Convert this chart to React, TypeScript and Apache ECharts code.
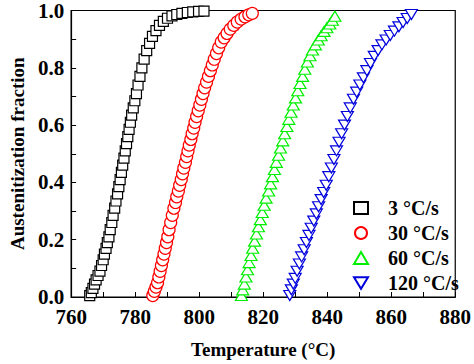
import React, { useEffect, useRef } from "react";
import * as echarts from "echarts";

const xTicks = [760, 780, 800, 820, 840, 860, 880];
const yTicks = [0.0, 0.2, 0.4, 0.6, 0.8, 1.0];
const seriesNames = ["3 \u00b0C/s", "30 \u00b0C/s", "60 \u00b0C/s", "120 \u00b0C/s"];

const rate3: number[][] = [
  [765.8, 0.005], [766.3, 0.015], [766.8, 0.03], [767.3, 0.045], [767.8, 0.06], [768.4, 0.075],
  [769.0, 0.09], [769.5, 0.11], [770.0, 0.13], [770.4, 0.15], [770.9, 0.17], [771.3, 0.19],
  [771.8, 0.21], [772.2, 0.235], [772.7, 0.26], [773.1, 0.285], [773.6, 0.31], [774.0, 0.335],
  [774.5, 0.36], [774.9, 0.385], [775.3, 0.41], [775.7, 0.435], [776.1, 0.46], [776.5, 0.485],
  [776.9, 0.51], [777.3, 0.535], [777.7, 0.56], [778.1, 0.585], [778.5, 0.61], [778.9, 0.635],
  [779.4, 0.66], [779.9, 0.685], [780.4, 0.71], [780.9, 0.74], [781.5, 0.77], [782.1, 0.8],
  [782.8, 0.83], [783.6, 0.86], [784.5, 0.885], [785.4, 0.91], [786.5, 0.93], [787.6, 0.948],
  [788.8, 0.962], [790.1, 0.973], [791.5, 0.981], [793.0, 0.986], [794.6, 0.99], [796.3, 0.993],
  [798.0, 0.995], [799.8, 0.997], [801.5, 0.998],
];

const rate30: number[][] = [
  [785.5, 0.005], [786.0, 0.02], [786.5, 0.035], [787.0, 0.05], [787.4, 0.07], [787.8, 0.09],
  [788.2, 0.11], [788.6, 0.13], [789.0, 0.15], [789.4, 0.17], [789.8, 0.19], [790.2, 0.21],
  [790.6, 0.235], [791.1, 0.26], [791.6, 0.285], [792.1, 0.31], [792.6, 0.33], [793.0, 0.35],
  [793.5, 0.37], [793.9, 0.39], [794.4, 0.41], [794.8, 0.43], [795.2, 0.45], [795.7, 0.47],
  [796.1, 0.49], [796.5, 0.51], [796.9, 0.53], [797.4, 0.55], [797.8, 0.57], [798.3, 0.59],
  [798.7, 0.61], [799.2, 0.63], [799.7, 0.65], [800.2, 0.67], [800.7, 0.69], [801.2, 0.71],
  [801.7, 0.73], [802.3, 0.75], [802.9, 0.77], [803.5, 0.79], [804.1, 0.81], [804.7, 0.83],
  [805.4, 0.85], [806.1, 0.87], [806.9, 0.89], [807.8, 0.905], [808.7, 0.92], [809.7, 0.935],
  [810.8, 0.948], [811.9, 0.96], [813.1, 0.97], [814.3, 0.978], [815.5, 0.985], [816.6, 0.99],
];

const rate60: number[][] = [
  [813.2, 0.005], [813.6, 0.025], [814.1, 0.045], [814.6, 0.07], [815.1, 0.095], [815.6, 0.12],
  [816.2, 0.145], [816.7, 0.17], [817.3, 0.195], [817.9, 0.22], [818.5, 0.245], [819.1, 0.27],
  [819.7, 0.295], [820.3, 0.32], [820.9, 0.345], [821.7, 0.37], [822.3, 0.395], [822.9, 0.42],
  [823.5, 0.445], [824.1, 0.47], [824.8, 0.495], [825.4, 0.52], [826.1, 0.545], [826.7, 0.57],
  [827.4, 0.595], [828.0, 0.62], [828.7, 0.645], [829.4, 0.67], [830.1, 0.695], [830.8, 0.72],
  [831.5, 0.745], [832.3, 0.77], [833.0, 0.795], [833.8, 0.82], [834.6, 0.842], [835.4, 0.862],
  [836.3, 0.88], [837.2, 0.897], [838.1, 0.912], [839.0, 0.927], [839.9, 0.94], [840.8, 0.953],
  [841.6, 0.966], [842.4, 0.98],
];

const rate120: number[][] = [
  [828.3, 0.005], [828.8, 0.025], [829.4, 0.045], [830.0, 0.065], [830.6, 0.09], [831.3, 0.115],
  [832.0, 0.14], [832.8, 0.165], [833.5, 0.19], [834.3, 0.215], [835.0, 0.24], [835.8, 0.265],
  [836.6, 0.29], [837.3, 0.315], [838.1, 0.34], [838.9, 0.365], [839.7, 0.39], [840.5, 0.42],
  [841.3, 0.45], [842.1, 0.48], [842.9, 0.51], [843.7, 0.54], [844.5, 0.57], [845.4, 0.6],
  [846.3, 0.63], [847.2, 0.66], [848.2, 0.69], [849.2, 0.715], [850.2, 0.74], [851.3, 0.765],
  [852.4, 0.79], [853.5, 0.815], [854.7, 0.84], [855.9, 0.86], [857.1, 0.88], [858.4, 0.897],
  [859.7, 0.913], [861.0, 0.928], [862.4, 0.943], [863.7, 0.958], [865.0, 0.972], [866.3, 0.986],
];

const FONT = "Liberation Serif";
const DOWN_TRIANGLE = "path://M0,0 L12,0 L6,10 Z";

export default function App() {
  const ref = useRef<HTMLDivElement>(null);
  useEffect(() => {
    if (!ref.current) return;
    const chart = echarts.init(ref.current, undefined, { renderer: "svg" });
    const mk = (name: string, data: number[][], symbol: string, size: any, color: string) => ({
      name,
      type: "scatter",
      data,
      symbol,
      symbolSize: size,
      itemStyle: { color: "#ffffff", borderColor: color, borderWidth: 1.2, opacity: 1 },
      emphasis: { disabled: true },
    });
    chart.setOption({
      animation: false,
      grid: {
        left: 60, right: 16, top: 8, bottom: 62,
        show: true, borderColor: "#000", borderWidth: 1.2, backgroundColor: "transparent",
      },
      xAxis: {
        type: "value",
        min: xTicks[0],
        max: xTicks[xTicks.length - 1],
        interval: 20,
        name: "Temperature (\u00b0C)",
        nameLocation: "middle",
        nameGap: 43,
        nameTextStyle: { fontFamily: FONT, fontWeight: "bold", fontSize: 19, color: "#000" },
        axisLine: { show: true, lineStyle: { color: "#000", width: 1.2 } },
        axisTick: { show: true, inside: true, length: 5, lineStyle: { color: "#000", width: 1 } },
        minorTick: { show: true, splitNumber: 2, length: 5, lineStyle: { color: "#000", width: 1 } },
        splitLine: { show: false },
        axisLabel: {
          margin: 9,
          fontFamily: FONT, fontWeight: "bold", fontSize: 21, color: "#000",
          formatter: (v: number) => (xTicks.includes(v) ? String(v) : ""),
        },
      },
      yAxis: {
        type: "value",
        min: 0,
        max: 1,
        interval: 0.2,
        name: "Austenitization fraction",
        nameLocation: "middle",
        nameGap: 42,
        nameTextStyle: { fontFamily: FONT, fontWeight: "bold", fontSize: 19, color: "#000" },
        axisLine: { show: true, lineStyle: { color: "#000", width: 1.2 } },
        axisTick: { show: true, inside: true, length: 5, lineStyle: { color: "#000", width: 1 } },
        minorTick: { show: true, splitNumber: 2, length: 5, lineStyle: { color: "#000", width: 1 } },
        splitLine: { show: false },
        axisLabel: {
          margin: 7,
          fontFamily: FONT, fontWeight: "bold", fontSize: 21, color: "#000",
          formatter: (v: number) => {
            const t = yTicks.find((y) => Math.abs(y - v) < 1e-6);
            return t === undefined ? "" : t.toFixed(1);
          },
        },
      },
      legend: {
        orient: "vertical",
        left: 348,
        top: 193,
        itemWidth: 14,
        itemHeight: 12,
        itemGap: 5,
        symbolKeepAspect: true,
        selectedMode: false,
        textStyle: {
          fontFamily: FONT, fontWeight: "bold", fontSize: 20, color: "#000",
          lineHeight: 20, padding: [0, 0, 0, 15],
        },
        data: seriesNames,
      },
      series: [
        mk(seriesNames[0], rate3, "rect", 10, "#000000"),
        mk(seriesNames[1], rate30, "circle", 12, "#ff0000"),
        mk(seriesNames[2], rate60, "triangle", [12, 10], "#00ee00"),
        mk(seriesNames[3], rate120, DOWN_TRIANGLE, [12, 10], "#0000dd"),
      ],
    });
    return () => chart.dispose();
  }, []);
  return (
    <div
      ref={ref}
      style={{ position: "fixed", left: 0, top: 0, width: 474, height: 364, background: "#fff" }}
    />
  );
}
